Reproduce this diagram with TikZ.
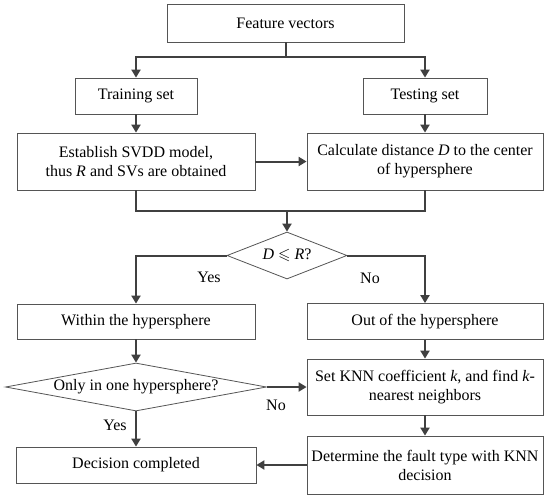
\documentclass[tikz,border=0pt]{standalone}
\usepackage{fontspec}
\usepackage{amssymb}
\setmainfont{Liberation Serif}
\usetikzlibrary{arrows.meta,shapes.geometric}
\definecolor{boxc}{HTML}{555555}
\definecolor{linec}{HTML}{404040}
\begin{document}
\begin{tikzpicture}[x=1pt,y=-1pt,
  box/.style={draw=boxc, line width=0.8pt, inner sep=0pt, align=center, font=\fontsize{16}{19}\selectfont},
  dia/.style={box, diamond},
  conn/.style={draw=linec, line width=2pt},
  arr/.style={conn, -{Triangle[length=8pt,width=9pt]}},
  lab/.style={font=\fontsize{16}{19}\selectfont, inner sep=0pt}]
\useasboundingbox[fill=white] (0,0) rectangle (550,498);
\node[box, minimum width=237pt, minimum height=38pt] (fv) at (285.5,23) {Feature vectors};
\node[box, minimum width=122pt, minimum height=36pt] (train) at (136,96) {Training set};
\node[box, minimum width=124pt, minimum height=36pt] (test) at (425,96) {Testing set};
\node[box, minimum width=238pt, minimum height=57pt] (svdd) at (136,161.5) {Establish SVDD model,\\thus \textit{R} and SVs are obtained};
\node[box, minimum width=236pt, minimum height=57pt] (calc) at (425,161.5) {Calculate distance \textit{D} to the center\\of hypersphere};
\node[dia, shape aspect=2.55, minimum width=120pt, minimum height=47pt] (d1) at (287,255.5) {\textit{D} $\leqslant$ \textit{R}?};
\node[box, minimum width=238pt, minimum height=35pt] (within) at (136,321.5) {Within the hypersphere};
\node[box, minimum width=236pt, minimum height=36pt] (out) at (425,321.5) {Out of the hypersphere};
\node[dia, shape aspect=5.44, minimum width=261pt, minimum height=48pt] (d2) at (136,387) {Only in one hypersphere?};
\node[box, minimum width=236pt, minimum height=56pt] (set) at (425,387) {Set KNN coefficient \textit{k}, and find \textit{k}-\\nearest neighbors};
\node[box, minimum width=236pt, minimum height=58pt] (det) at (425,465) {Determine the fault type with KNN\\decision};
\node[box, minimum width=240pt, minimum height=36pt] (dec) at (136,465) {Decision completed};
\node[lab] (yes1) at (209,277) {Yes};
\node[lab] (no1) at (370,278) {No};
\node[lab] (no2) at (276,405) {No};
\node[lab] (yes2) at (115,425) {Yes};
\path (fv.south) ++(0,15) coordinate (sp);
\draw[conn] (fv.south) -- (sp);
\draw[arr] (sp) -| (train.north);
\draw[arr] (sp) -| (test.north);
\draw[arr] (train) -- (svdd);
\draw[arr] (test) -- (calc);
\draw[arr] (svdd) -- (calc);
\path (svdd.south) ++(0,21) coordinate (m1);
\draw[conn] (svdd.south) -- (m1) -| (calc.south);
\draw[arr] (m1 -| d1.north) -- (d1.north);
\draw[arr] (d1.west) -| (within.north);
\draw[arr] (d1.east) -| (out.north);
\draw[arr] (within) -- (d2.north);
\draw[arr] (d2.east) -- (set.west);
\draw[arr] (out) -- (set);
\draw[arr] (set) -- (det);
\draw[arr] (det) -- (dec);
\draw[arr] (d2.south) -- (dec.north);
\end{tikzpicture}
\end{document}
